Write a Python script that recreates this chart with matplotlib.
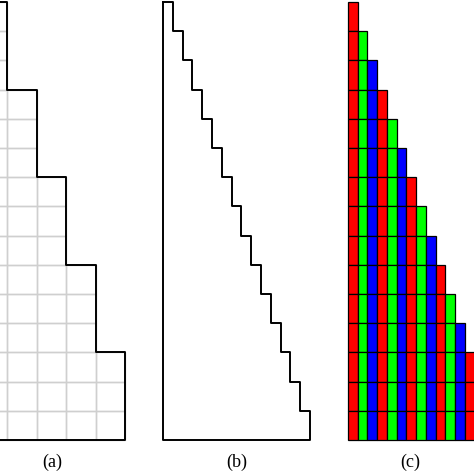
import matplotlib.pyplot as plt
from matplotlib.patches import Rectangle

# structure of the three panels
n_rows = 15
a_steps = [1, 2, 3, 4, 5]          # columns per 3-row block in (a)
a_rows_per_step = 3
b_cols = 15                        # one column per row in (b)
c_cols = 13                        # visible colour columns in (c)
c_colors = ['#ff0000', '#00ff00', '#0000ff']
labels = ['(a)', '(b)', '(c)']

fig = plt.figure(figsize=(4.74, 4.74), dpi=100)
ax = fig.add_axes([0, 0, 1, 1])
ax.set_xlim(0, 474)
ax.set_ylim(474, 0)
ax.axis('off')

top, bot = 2, 440
rh = (bot - top) / n_rows

# (a) grid with coarse staircase
ax0, cw_a = -22, 29.4
for k, nc in enumerate(a_steps):
    for r in range(k * a_rows_per_step, (k + 1) * a_rows_per_step):
        for c in range(nc):
            ax.add_patch(Rectangle((ax0 + c * cw_a, top + r * rh), cw_a, rh,
                                   fill=False, ec='#cfcfcf', lw=1.0))
xs, ys = [ax0], [top]
for k, nc in enumerate(a_steps):
    xs += [ax0 + nc * cw_a, ax0 + nc * cw_a]
    ys += [top + k * a_rows_per_step * rh, top + (k + 1) * a_rows_per_step * rh]
xs += [ax0]
ys += [bot]
ax.plot(xs, ys, color='black', lw=1.4)

# (b) fine staircase outline
bx0, cw_b = 163, (310 - 163) / b_cols
xs, ys = [bx0], [top]
for i in range(b_cols):
    xs += [bx0 + (i + 1) * cw_b, bx0 + (i + 1) * cw_b]
    ys += [top + i * rh, top + (i + 1) * rh]
xs += [bx0, bx0]
ys += [bot, top]
ax.plot(xs, ys, color='black', lw=1.4)

# (c) colour sub-pixel staircase
cx0, cw_c = 348, 9.75
for i in range(c_cols):
    for r in range(i, n_rows):
        ax.add_patch(Rectangle((cx0 + i * cw_c, top + r * rh), cw_c, rh,
                               fc=c_colors[i % 3], ec='black', lw=0.9))

for x, s in zip([52, 237, 410], labels):
    ax.text(x, 462, s, ha='center', va='center', fontsize=13,
            family='Liberation Serif')

fig.savefig('out.png', dpi=100)
